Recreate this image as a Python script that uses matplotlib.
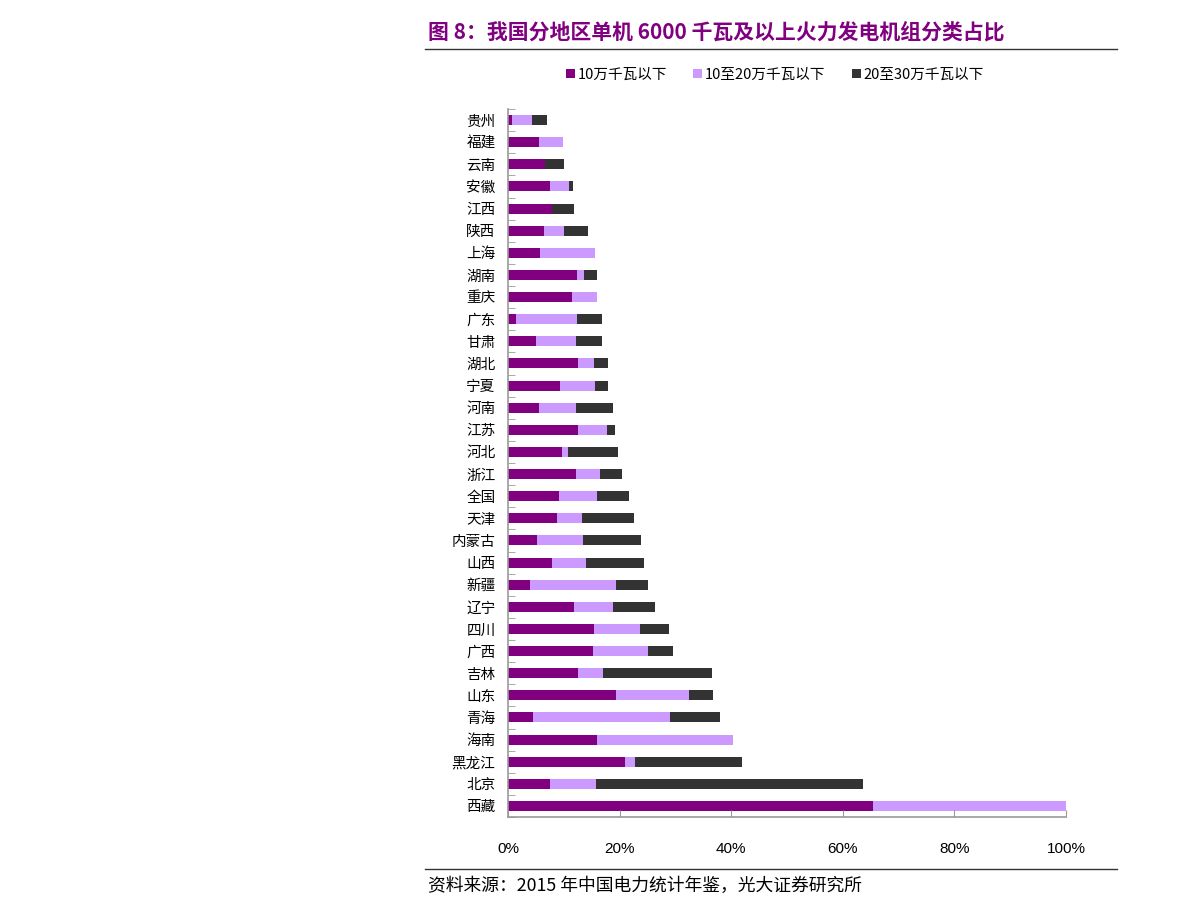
#!/usr/bin/env python
# plot.py - share of thermal units by capacity class, per province
import numpy as np
import matplotlib
matplotlib.use("Agg")
from matplotlib import pyplot as plt
from matplotlib.ticker import FixedLocator, PercentFormatter

plt.rcParams['font.family'] = ['Noto Sans CJK SC', 'DejaVu Sans']

# provinces, top to bottom
regions = ['贵州', '福建', '云南', '安徽', '江西', '陕西', '上海', '湖南', '重庆', '广东',
           '甘肃', '湖北', '宁夏', '河南', '江苏', '河北', '浙江', '全国', '天津', '内蒙古',
           '山西', '新疆', '辽宁', '四川', '广西', '吉林', '山东', '青海', '海南', '黑龙江',
           '北京', '西藏']

# shares in %
below_10 = [0.8, 5.5, 6.7, 7.6, 7.8, 6.4, 5.7, 12.4, 11.5, 1.5,
            5.0, 12.6, 9.4, 5.5, 12.6, 9.6, 12.2, 9.2, 8.7, 5.2,
            7.8, 4.0, 11.9, 15.4, 15.2, 12.6, 19.3, 4.5, 16.0, 20.9,
            7.5, 65.5]
from_10_to_20 = [3.5, 4.3, 0.0, 3.4, 0.0, 3.7, 9.9, 1.3, 4.5, 10.9,
                 7.2, 2.8, 6.2, 6.7, 5.1, 1.1, 4.3, 6.7, 4.6, 8.3,
                 6.2, 15.3, 7.0, 8.3, 9.9, 4.4, 13.2, 24.5, 24.3, 1.8,
                 8.3, 34.5]
from_20_to_30 = [2.7, 0.0, 3.4, 0.7, 4.1, 4.3, 0.0, 2.2, 0.0, 4.5,
                 4.7, 2.5, 2.3, 6.7, 1.4, 9.0, 4.0, 5.8, 9.3, 10.4,
                 10.4, 5.8, 7.5, 5.2, 4.4, 19.6, 4.3, 9.0, 0.0, 19.2,
                 47.8, 0.0]

series_names = ['10万千瓦以下', '10至20万千瓦以下', '20至30万千瓦以下']
series_colors = ['#800080', '#CC99FF', '#333333']

fig = plt.figure(figsize=(11.91, 9.14), dpi=100)
ax = fig.add_axes([508 / 1191, 1 - 817 / 914, 558 / 1191, 708 / 914])

y = np.arange(len(regions))
left = np.zeros(len(regions))
for vals, name, col in zip([below_10, from_10_to_20, from_20_to_30], series_names, series_colors):
    vals = np.array(vals)
    ax.barh(y, vals, left=left, height=0.45, color=col, label=name)
    left += vals

ax.set_xlim(0, 100)
ax.set_ylim(len(regions) - 0.5, -0.5)

# axes styling
for s in ['top', 'right']:
    ax.spines[s].set_visible(False)
for s in ['left', 'bottom']:
    ax.spines[s].set_color('#999999')
    ax.spines[s].set_linewidth(1.2)

ax.set_yticks(y)
ax.set_yticklabels(regions, fontsize=10.5)
ax.tick_params(axis='y', length=0, pad=9)
ax.yaxis.set_minor_locator(FixedLocator(np.arange(len(regions) + 1) - 0.5))
ax.tick_params(axis='y', which='minor', direction='in', length=5, color='#999999')

ax.set_xticks(np.arange(0, 101, 20))
ax.xaxis.set_major_formatter(PercentFormatter(decimals=0))
ax.tick_params(axis='x', direction='in', length=5, color='#999999', pad=18)
for lab in ax.get_xticklabels():
    lab.set_family(['Liberation Sans', 'DejaVu Sans'])
    lab.set_fontsize(11)

leg = fig.legend(loc='center', bbox_to_anchor=(775 / 1191, 1 - 75 / 914), ncol=3,
                 frameon=False, fontsize=10.5, handlelength=0.6, handleheight=0.6,
                 handletextpad=0.2, columnspacing=1.8)

# title and source
fig.text(428 / 1191, 1 - 32 / 914, '图 8：我国分地区单机 6000 千瓦及以上火力发电机组分类占比',
         color='#800080', fontsize=15, fontweight='bold', va='center', ha='left')
fig.add_artist(plt.Line2D([425 / 1191, 1117 / 1191], [1 - 49 / 914] * 2, color='#333333', lw=1))
fig.add_artist(plt.Line2D([425 / 1191, 1117 / 1191], [1 - 869 / 914] * 2, color='#333333', lw=1))
fig.text(428 / 1191, 1 - 886 / 914, '资料来源：2015 年中国电力统计年鉴，光大证券研究所',
         fontsize=12.8, va='center', ha='left')

plt.savefig("out.png", dpi=100)
